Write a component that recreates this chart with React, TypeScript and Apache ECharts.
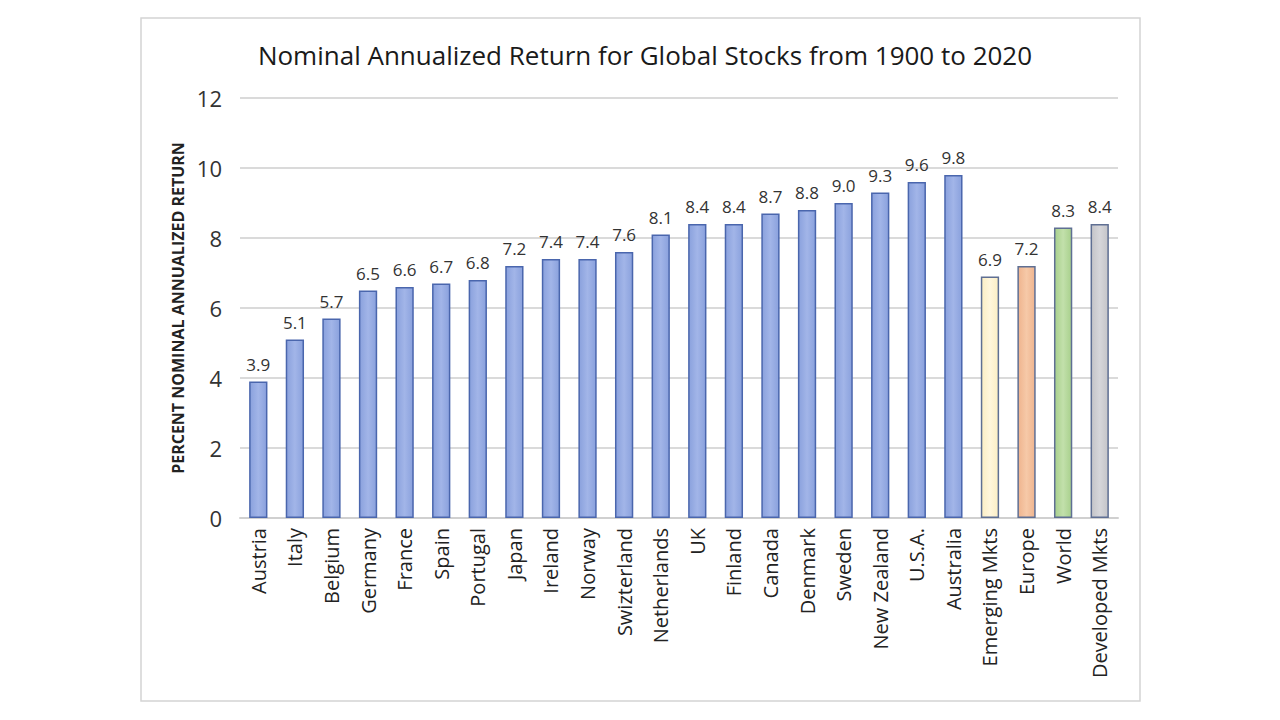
import React, { useEffect, useRef } from "react";
import * as echarts from "echarts";

const categories = [
  "Austria", "Italy", "Belgium", "Germany", "France", "Spain", "Portugal", "Japan",
  "Ireland", "Norway", "Swizterland", "Netherlands", "UK", "Finland", "Canada", "Denmark",
  "Sweden", "New Zealand", "U.S.A.", "Australia", "Emerging Mkts", "Europe", "World", "Developed Mkts",
];
const returns = [
  3.9, 5.1, 5.7, 6.5, 6.6, 6.7, 6.8, 7.2, 7.4, 7.4, 7.6, 8.1, 8.4, 8.4, 8.7, 8.8,
  9.0, 9.3, 9.6, 9.8, 6.9, 7.2, 8.3, 8.4,
];
const specialFills: Record<string, [string, string]> = {
  "Emerging Mkts": ["#fbeec4", "#fff6dc"],
  "Europe": ["#efb48e", "#f6c9a8"],
  "World": ["#a8d08c", "#c2e0ab"],
  "Developed Mkts": ["#c4c4c8", "#d6d6da"],
};
const yTicks = [0, 2, 4, 6, 8, 10, 12];

function grad(edge: string, mid: string) {
  return new echarts.graphic.LinearGradient(0, 0, 1, 0, [
    { offset: 0, color: edge },
    { offset: 0.5, color: mid },
    { offset: 1, color: edge },
  ]);
}

export default function App() {
  const ref = useRef<HTMLDivElement>(null);
  useEffect(() => {
    if (!ref.current) return;
    const chart = echarts.init(ref.current, undefined, { renderer: "svg" });
    const data = categories.map((c, i) => {
      const sp = specialFills[c];
      return {
        value: returns[i],
        itemStyle: {
          color: sp ? grad(sp[0], sp[1]) : grad("#8aa1dd", "#a2b5e8"),
          borderColor: sp ? "#5f6f93" : "#4a66ad",
          borderWidth: 1.5,
        },
      };
    });
    chart.setOption({
      animation: false,
      backgroundColor: "#ffffff",
      textStyle: { fontFamily: "Open Sans" },
      title: {
        text: "Nominal Annualized Return for Global Stocks from 1900 to 2020",
        left: 640,
        textAlign: "center",
        top: 37,
        textStyle: { fontFamily: "Open Sans", fontSize: 26, fontWeight: "normal", color: "#1a1a1a" },
      },
      graphic: [
        {
          type: "rect",
          shape: { x: 141, y: 18, width: 999, height: 683 },
          style: { fill: "none", stroke: "#d4d4d4", lineWidth: 1.5 },
          silent: true,
          z: -1,
        },
      ],
      grid: { left: 240, right: 162, top: 98, bottom: 202 },
      xAxis: {
        type: "category",
        data: categories,
        axisTick: { show: false },
        axisLine: { lineStyle: { color: "#d0d0d0", width: 2 } },
        axisLabel: {
          rotate: 90,
          interval: 0,
          margin: 10,
          fontSize: 20,
          color: "#222222",
          fontFamily: "Open Sans",
        },
      },
      yAxis: {
        type: "value",
        min: yTicks[0],
        max: yTicks[yTicks.length - 1],
        interval: 2,
        name: "PERCENT NOMINAL ANNUALIZED RETURN",
        nameLocation: "middle",
        nameGap: 52,
        nameRotate: 90,
        nameTextStyle: { fontSize: 16, fontWeight: "bold", color: "#222222", fontFamily: "Open Sans" },
        axisLine: { show: false },
        axisTick: { show: false },
        axisLabel: { fontSize: 22, color: "#333333", margin: 18, fontFamily: "Open Sans" },
        splitLine: { lineStyle: { color: "#dadada", width: 2 } },
      },
      series: [
        {
          type: "bar",
          data,
          barWidth: "50%",
          label: {
            show: true,
            position: "top",
            distance: 9,
            fontSize: 17,
            color: "#333333",
            fontFamily: "Open Sans",
            formatter: (p: any) => Number(p.value).toFixed(1),
          },
        },
      ],
    });
    return () => chart.dispose();
  }, []);
  return (
    <div
      ref={ref}
      style={{ position: "absolute", left: 0, top: 0, width: 1280, height: 720, background: "#fff" }}
    />
  );
}
